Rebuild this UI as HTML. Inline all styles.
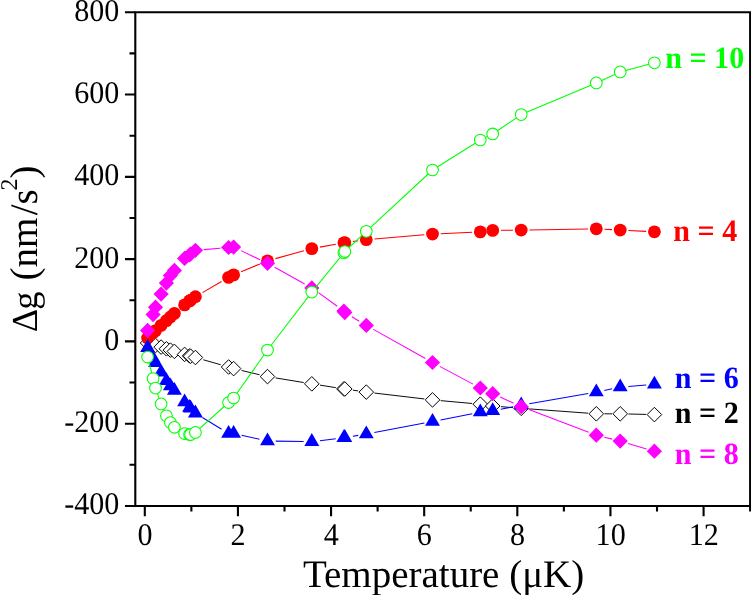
<!DOCTYPE html>
<html><head><meta charset="utf-8"><title>Δg vs Temperature</title>
<style>
html,body{margin:0;padding:0;background:#fff;}
body{width:751px;height:595px;overflow:hidden;}
svg{display:block;text-rendering:geometricPrecision;font-family:"Liberation Serif","DejaVu Serif",serif;}
</style></head><body>
<svg width="751" height="595" viewBox="0 0 751 595">
<rect width="751" height="595" fill="#fff"/>
<g fill="#fff" stroke="#000" stroke-width="1"><path d="M203.28 359.76L220.72 364.74M241.58 370.48L259.52 374.72M275.59 377.92L303.71 382.53M319.9 385.12L335.8 387.63M352.92 390.17L358.18 390.93M374.44 393.06L424.36 398.94M440.67 400.63L472.13 403.47M500.87 406.66L513.03 407.64M529.38 408.9L588.12 413.2M604.5 413.8L612 413.8M628.4 413.99L646.2 414.41" stroke="#000" stroke-width="0.95" fill="none"/><path d="M147.6 335.7L154.9 343L147.6 350.3L140.3 343Z"/><path d="M153.1 337.4L160.4 344.7L153.1 352L145.8 344.7Z"/><path d="M155.5 338.2L162.8 345.5L155.5 352.8L148.2 345.5Z"/><path d="M161.1 339.8L168.4 347.1L161.1 354.4L153.8 347.1Z"/><path d="M166.4 341.5L173.7 348.8L166.4 356.1L159.1 348.8Z"/><path d="M170.4 342.8L177.7 350.1L170.4 357.4L163.1 350.1Z"/><path d="M174.4 344.1L181.7 351.4L174.4 358.7L167.1 351.4Z"/><path d="M184.6 347.1L191.9 354.4L184.6 361.7L177.3 354.4Z"/><path d="M189.6 348.6L196.9 355.9L189.6 363.2L182.3 355.9Z"/><path d="M190.6 348.9L197.9 356.2L190.6 363.5L183.3 356.2Z"/><path d="M195.4 350.2L202.7 357.5L195.4 364.8L188.1 357.5Z"/><path d="M228.6 359.7L235.9 367L228.6 374.3L221.3 367Z"/><path d="M233.6 361.3L240.9 368.6L233.6 375.9L226.3 368.6Z"/><path d="M267.5 369.3L274.8 376.6L267.5 383.9L260.2 376.6Z"/><path d="M311.8 376.55L319.1 383.85L311.8 391.15L304.5 383.85Z"/><path d="M343.9 381.6L351.2 388.9L343.9 396.2L336.6 388.9Z"/><path d="M344.8 381.7L352.1 389L344.8 396.3L337.5 389Z"/><path d="M366.3 384.8L373.6 392.1L366.3 399.4L359 392.1Z"/><path d="M432.5 392.6L439.8 399.9L432.5 407.2L425.2 399.9Z"/><path d="M480.3 396.9L487.6 404.2L480.3 411.5L473 404.2Z"/><path d="M492.7 398.7L500 406L492.7 413.3L485.4 406Z"/><path d="M521.2 401L528.5 408.3L521.2 415.6L513.9 408.3Z"/><path d="M596.3 406.5L603.6 413.8L596.3 421.1L589 413.8Z"/><path d="M620.2 406.5L627.5 413.8L620.2 421.1L612.9 413.8Z"/><path d="M654.4 407.3L661.7 414.6L654.4 421.9L647.1 414.6Z"/></g>
<g fill="#f00"><path d="M202.49 292.58L221.51 281.52M241.17 271.75L259.93 263.95M275.41 258.62L303.89 250.78M319.87 247.14L335.83 244.26M352.93 241.5L358.17 240.8M374.47 239L424.33 234.75M440.69 233.68L472.11 232.27M500.9 230.3L513 230.15M529.4 229.91L588.1 228.94M604.49 229.23L612.01 229.62M628.39 230.47L646.21 231.38" stroke="#f00" stroke-width="1.05" fill="none"/><circle cx="147.6" cy="338" r="6.4"/><circle cx="153.1" cy="332.8" r="6.4"/><circle cx="155.5" cy="330.6" r="6.4"/><circle cx="161.1" cy="325.4" r="6.4"/><circle cx="166.4" cy="320.6" r="6.4"/><circle cx="170.4" cy="317" r="6.4"/><circle cx="174.4" cy="313.4" r="6.4"/><circle cx="184.6" cy="304.9" r="6.4"/><circle cx="189.6" cy="300.9" r="6.4"/><circle cx="190.6" cy="300.2" r="6.4"/><circle cx="195.4" cy="296.7" r="6.4"/><circle cx="228.6" cy="277.4" r="6.4"/><circle cx="233.6" cy="274.9" r="6.4"/><circle cx="267.5" cy="260.8" r="6.4"/><circle cx="311.8" cy="248.6" r="6.4"/><circle cx="343.9" cy="242.8" r="6.4"/><circle cx="344.8" cy="242.6" r="6.4"/><circle cx="366.3" cy="239.7" r="6.4"/><circle cx="432.5" cy="234.05" r="6.4"/><circle cx="480.3" cy="231.9" r="6.4"/><circle cx="492.7" cy="230.4" r="6.4"/><circle cx="521.2" cy="230.05" r="6.4"/><circle cx="596.3" cy="228.8" r="6.4"/><circle cx="620.2" cy="230.05" r="6.4"/><circle cx="654.4" cy="231.8" r="6.4"/></g>
<g fill="#00f"><path d="M202.4 417.48L221.6 429.22M241.61 435.27L259.49 439.23M275.7 441.13L303.6 441.57M319.94 440.71L335.76 438.79M352.88 436.31L358.22 435.39M374.36 432.48L424.44 423.02M440.55 419.92L472.25 413.68M500.75 409.22L513.15 406.78M529.28 403.79L588.22 393.51M604.33 390.42L612.17 388.78M628.37 386.45L646.23 385.05" stroke="#00f" stroke-width="1.05" fill="none"/><path d="M147.6 339.1L155.05 351.9L140.15 351.9ZM153.1 349.7L160.55 362.5L145.65 362.5ZM155.5 354.3L162.95 367.1L148.05 367.1ZM161.1 363.7L168.55 376.5L153.65 376.5ZM166.4 372.2L173.85 385L158.95 385ZM170.4 377.4L177.85 390.2L162.95 390.2ZM174.4 382L181.85 394.8L166.95 394.8ZM184.6 393.5L192.05 406.3L177.15 406.3ZM189.6 399L197.05 411.8L182.15 411.8ZM190.6 399.8L198.05 412.6L183.15 412.6ZM195.4 404.6L202.85 417.4L187.95 417.4ZM228.6 424.9L236.05 437.7L221.15 437.7ZM233.6 424.9L241.05 437.7L226.15 437.7ZM267.5 432.4L274.95 445.2L260.05 445.2ZM311.8 433.1L319.25 445.9L304.35 445.9ZM343.9 429.2L351.35 442L336.45 442ZM344.8 429.1L352.25 441.9L337.35 441.9ZM366.3 425.4L373.75 438.2L358.85 438.2ZM432.5 412.9L439.95 425.7L425.05 425.7ZM480.3 403.5L487.75 416.3L472.85 416.3ZM492.7 402.2L500.15 415L485.25 415ZM521.2 396.6L528.65 409.4L513.75 409.4ZM596.3 383.5L603.75 396.3L588.85 396.3ZM620.2 378.5L627.65 391.3L612.75 391.3ZM654.4 375.8L661.85 388.6L646.95 388.6Z"/></g>
<g fill="#f0f"><path d="M203.57 249.61L220.43 248.19M241 250.64L260.1 259.76M274.67 267.28L304.63 283.92M318.46 292.69L337.24 306.21M351.85 316.79L359.25 321.21M373.45 329.41L425.35 358.49M439.73 366.36L473.07 384.14M500.16 397.1L513.74 403.3M528.87 409.61L588.63 432.29M604.26 437.17L612.24 439.13M628.06 443.42L646.54 448.88" stroke="#f0f" stroke-width="1.05" fill="none"/><path d="M147.6 322.8L155.2 330.4L147.6 338L140 330.4ZM153.1 307L160.7 314.6L153.1 322.2L145.5 314.6ZM155.5 299.6L163.1 307.2L155.5 314.8L147.9 307.2ZM161.1 286.5L168.7 294.1L161.1 301.7L153.5 294.1ZM166.4 275.5L174 283.1L166.4 290.7L158.8 283.1ZM170.4 268L178 275.6L170.4 283.2L162.8 275.6ZM174.4 262.8L182 270.4L174.4 278L166.8 270.4ZM184.6 250.8L192.2 258.4L184.6 266L177 258.4ZM189.6 247.2L197.2 254.8L189.6 262.4L182 254.8ZM190.6 246.5L198.2 254.1L190.6 261.7L183 254.1ZM195.4 242.7L203 250.3L195.4 257.9L187.8 250.3ZM228.6 239.9L236.2 247.5L228.6 255.1L221 247.5ZM233.6 239.5L241.2 247.1L233.6 254.7L226 247.1ZM267.5 255.7L275.1 263.3L267.5 270.9L259.9 263.3ZM311.8 280.3L319.4 287.9L311.8 295.5L304.2 287.9ZM343.9 303.4L351.5 311L343.9 318.6L336.3 311ZM344.8 305L352.4 312.6L344.8 320.2L337.2 312.6ZM366.3 317.8L373.9 325.4L366.3 333L358.7 325.4ZM432.5 354.9L440.1 362.5L432.5 370.1L424.9 362.5ZM480.3 380.4L487.9 388L480.3 395.6L472.7 388ZM492.7 386.1L500.3 393.7L492.7 401.3L485.1 393.7ZM521.2 399.1L528.8 406.7L521.2 414.3L513.6 406.7ZM596.3 427.6L603.9 435.2L596.3 442.8L588.7 435.2ZM620.2 433.5L627.8 441.1L620.2 448.7L612.6 441.1ZM654.4 443.6L662 451.2L654.4 458.8L646.8 451.2Z"/></g>
<g fill="#fff" stroke="#0f0" stroke-width="1.05"><path d="M147.6 357L153.1 378.5M153.1 378.5L155.5 388.1M155.5 388.1L161.1 403.9M161.1 403.9L166.4 415.8M166.4 415.8L170.4 422.5M170.4 422.5L174.4 427.25M174.4 427.25L184.6 433.5M184.6 433.5L189.6 434.5M189.6 434.5L190.6 434.5M190.6 434.5L195.4 432.4M195.4 432.4L228.6 402.5M228.6 402.5L233.6 398M233.6 398L267.5 350M267.5 350L311.8 292.1M311.8 292.1L343.9 252.8M343.9 252.8L344.8 251.5M344.8 251.5L366.3 231.3M366.3 231.3L432.5 170M432.5 170L480.3 140M480.3 140L492.7 134M492.7 134L521.2 114.6M521.2 114.6L596.3 82.9M596.3 82.9L620.2 71.9M620.2 71.9L654.4 62.8" stroke="#0f0" stroke-width="1.05" fill="none"/><circle cx="147.6" cy="357" r="5.85"/><circle cx="153.1" cy="378.5" r="5.85"/><circle cx="155.5" cy="388.1" r="5.85"/><circle cx="161.1" cy="403.9" r="5.85"/><circle cx="166.4" cy="415.8" r="5.85"/><circle cx="170.4" cy="422.5" r="5.85"/><circle cx="174.4" cy="427.25" r="5.85"/><circle cx="184.6" cy="433.5" r="5.85"/><circle cx="189.6" cy="434.5" r="5.85"/><circle cx="190.6" cy="434.5" r="5.85"/><circle cx="195.4" cy="432.4" r="5.85"/><circle cx="228.6" cy="402.5" r="5.85"/><circle cx="233.6" cy="398" r="5.85"/><circle cx="267.5" cy="350" r="5.85"/><circle cx="311.8" cy="292.1" r="5.85"/><circle cx="343.9" cy="252.8" r="5.85"/><circle cx="344.8" cy="251.5" r="5.85"/><circle cx="366.3" cy="231.3" r="5.85"/><circle cx="432.5" cy="170" r="5.85"/><circle cx="480.3" cy="140" r="5.85"/><circle cx="492.7" cy="134" r="5.85"/><circle cx="521.2" cy="114.6" r="5.85"/><circle cx="596.3" cy="82.9" r="5.85"/><circle cx="620.2" cy="71.9" r="5.85"/><circle cx="654.4" cy="62.8" r="5.85"/></g>
<path d="M135.3 12.3H750.15V505.95H135.3Z" fill="none" stroke="#000" stroke-width="2.1"/>
<path d="M144.8 505.95v10.3M191.37 505.95v5.6M237.93 505.95v10.3M284.5 505.95v5.6M331.06 505.95v10.3M377.62 505.95v5.6M424.19 505.95v10.3M470.75 505.95v5.6M517.32 505.95v10.3M563.88 505.95v5.6M610.45 505.95v10.3M657.01 505.95v5.6M703.58 505.95v10.3M750.14 505.95v5.6M135.3 505.96h-10.35M135.3 464.82h-5.8M135.3 423.68h-10.35M135.3 382.54h-5.8M135.3 341.4h-10.35M135.3 300.26h-5.8M135.3 259.12h-10.35M135.3 217.98h-5.8M135.3 176.84h-10.35M135.3 135.7h-5.8M135.3 94.56h-10.35M135.3 53.42h-5.8M135.3 12.28h-10.35" stroke="#000" stroke-width="2.1" fill="none"/>
<g font-size="31.5"><text transform="translate(145 545) scale(.955 1)" text-anchor="middle">0</text><text transform="translate(238.13 545) scale(.955 1)" text-anchor="middle">2</text><text transform="translate(331.26 545) scale(.955 1)" text-anchor="middle">4</text><text transform="translate(424.39 545) scale(.955 1)" text-anchor="middle">6</text><text transform="translate(517.52 545) scale(.955 1)" text-anchor="middle">8</text><text transform="translate(610.65 545) scale(.955 1)" text-anchor="middle">10</text><text transform="translate(703.78 545) scale(.955 1)" text-anchor="middle">12</text><text transform="translate(119.4 514.46) scale(.955 1)" text-anchor="end">-400</text><text transform="translate(119.4 432.18) scale(.955 1)" text-anchor="end">-200</text><text transform="translate(119.4 349.9) scale(.955 1)" text-anchor="end">0</text><text transform="translate(119.4 267.62) scale(.955 1)" text-anchor="end">200</text><text transform="translate(119.4 185.34) scale(.955 1)" text-anchor="end">400</text><text transform="translate(119.4 103.06) scale(.955 1)" text-anchor="end">600</text><text transform="translate(119.4 20.78) scale(.955 1)" text-anchor="end">800</text></g>
<text x="443.6" y="586.6" font-size="39" text-anchor="middle">Temperature (μK)</text>
<text transform="translate(37.1 330.9) rotate(-90)" font-size="39"><tspan font-size="36.5" x="-1.4">Δ</tspan><tspan font-size="36.5" x="21.1">g</tspan><tspan x="40.7"> (nm</tspan><tspan x="115.6">/s</tspan><tspan font-size="24" dx="-1.3" dy="-20.6">2</tspan><tspan dy="20.6">)</tspan></text>
<g font-size="31" font-weight="bold">
<text transform="translate(665.2 68) scale(.97 1)" fill="#0f0">n = 10</text>
<text transform="translate(673.3 240.5) scale(.97 1)" fill="#f00">n = 4</text>
<text transform="translate(674.8 387.9) scale(.97 1)" fill="#00f">n = 6</text>
<text transform="translate(674.8 422.7) scale(.97 1)" fill="#000">n = 2</text>
<text transform="translate(674.8 464) scale(.97 1)" fill="#f0f">n = 8</text>
</g>
</svg>
</body></html>
